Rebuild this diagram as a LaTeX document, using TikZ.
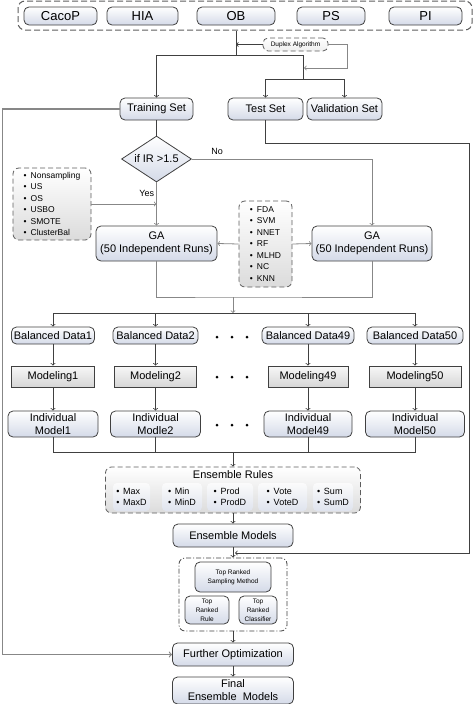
\documentclass[tikz,border=0pt]{standalone}
\usepackage{fontspec}
\setmainfont{Liberation Sans}
\usetikzlibrary{shapes.geometric, arrows}
\definecolor{boxblue}{RGB}{212,218,232}
\definecolor{linegray}{RGB}{64,64,64}
\definecolor{routegray}{RGB}{135,135,135}
\tikzstyle{setbox} = [rectangle, rounded corners=5pt, draw=linegray, line width=0.8pt, top color=white, bottom color=boxblue, text centered, align=center, inner sep=1pt, font=\fontsize{11}{13}\selectfont]
\tikzstyle{databox} = [setbox, minimum height=18pt, font=\fontsize{13}{15}\selectfont]
\tikzstyle{modelbox} = [rectangle, draw=linegray, line width=0.8pt, top color=gray!6, bottom color=gray!32, minimum height=21pt, text centered, font=\fontsize{11}{13}\selectfont]
\tikzstyle{listbox} = [rectangle, rounded corners=6pt, draw=linegray!85, dash pattern=on 5pt off 3pt, line width=0.8pt, top color=white, bottom color=gray!28, align=left, inner sep=2pt, font=\fontsize{8.5}{11.5}\selectfont]
\tikzstyle{rulebox} = [rectangle, rounded corners=4pt, top color=gray!3, bottom color=boxblue!75, align=left, inner sep=1pt, font=\fontsize{9}{11}\selectfont]
\tikzstyle{rankbox} = [setbox, font=\fontsize{6.5}{9}\selectfont]
\tikzstyle{decision} = [diamond, aspect=1.5, draw=linegray, line width=0.8pt, top color=white, bottom color=boxblue, inner sep=0pt, minimum width=70pt, minimum height=46pt, font=\fontsize{11}{13}\selectfont]
\tikzstyle{conn} = [draw=linegray, line width=0.8pt]
\tikzstyle{gline} = [draw=routegray, line width=0.8pt]
\tikzstyle{arrow} = [conn, ->, >=to]
\tikzstyle{garrow} = [gline, ->, >=to]
\tikzstyle{tag} = [font=\fontsize{9}{11}\selectfont, inner sep=2pt]
\newcommand{\itm}{\makebox[7pt][l]{\textbullet}}

\begin{document}
\begin{tikzpicture}[x=1pt, y=-1pt, node distance=41pt]
  \useasboundingbox (0,0) rectangle (474,704);

  % data sets
  \node (datasets) [rectangle, rounded corners=7pt, draw=linegray!85, dash pattern=on 6pt off 3pt, line width=1pt, minimum width=454pt, minimum height=29pt] at (245,15.5) {};
  \node (cacop) [databox, minimum width=73pt] at (60.5,16) {CacoP};
  \node (hia) [databox, minimum width=71pt] at (142.5,16) {HIA};
  \node (ob) [databox, minimum width=78pt] at (236,16) {OB};
  \node (ps) [databox, minimum width=68pt] at (331,16) {PS};
  \node (pi) [databox, minimum width=73pt] at (425.5,16) {PI};

  \node (duplex) [listbox, rounded corners=5pt, top color=white, bottom color=gray!12, minimum width=65pt, minimum height=13pt, inner sep=0pt, align=center, font=\fontsize{6.5}{7}\selectfont] at (295.5,44.5) {Duplex Algorithm};
  \coordinate (split) at (236,55);
  \coordinate (vsplit) at (303,79);
  \coordinate (dupin) at (304,68);

  \node (train) [setbox, minimum width=73pt, minimum height=22pt] at (156.5,109) {Training Set};
  \node (test) [setbox, minimum width=75pt, minimum height=22pt] at (265.5,109) {Test Set};
  \node (valid) [setbox, minimum width=75pt, minimum height=22pt] at (344.5,109) {Validation Set};

  \draw [conn] (datasets.south -| ob) -- (split);
  \draw [arrow] (duplex.west) -- (duplex.west -| split);
  \draw [garrow] (duplex.east) -| ++(19,23.5) -- (dupin);
  \draw [conn] (split) -| (vsplit);
  \draw [arrow] (split) -| (train.north);
  \draw [conn] (test.north |- vsplit) -- (valid.north |- vsplit);
  \draw [arrow] (test.north |- vsplit) -- (test.north);
  \draw [arrow] (valid.north |- vsplit) -- (valid.north);

  % imbalance check and GA
  \node (dec) [decision] at (156.5,159) {if IR >1.5};
  \node (sampling) [listbox, minimum width=78pt, minimum height=72pt] at (52,204) {\itm Nonsampling\\\itm US\\\itm OS\\\itm USBO\\\itm SMOTE\\\itm ClusterBal};
  \node (classif) [listbox, minimum width=53pt, minimum height=86pt] at (265.5,244) {\itm FDA\\\itm SVM\\\itm NNET\\\itm RF\\\itm MLHD\\\itm NC\\\itm KNN};
  \node (lga) [setbox, minimum width=121pt, minimum height=35pt] at (156.5,243.5) {GA\\(50 Independent Runs)};
  \node (rga) [setbox, minimum width=120pt, minimum height=35pt] at (372,243.5) {GA\\(50 Independent Runs)};

  \draw [conn] (train) -- (dec);
  \draw [garrow] (dec.east) -| node[pos=0.07, above, yshift=2pt, tag] (no) {No} (rga.north);
  \draw [garrow] (dec.south) -- node[pos=0.25, left, tag] (yes) {Yes} (lga.north);
  \draw [garrow] (sampling.east) -- (sampling.east -| lga.north);
  \draw [garrow] (classif.west) -- (lga.east);
  \draw [garrow] (classif.east) -- (rga.west);

  \coordinate (merge) at (233,297);
  \coordinate (dist) at (233,313);
  \draw [gline] (lga.south) |- (merge) -| (rga.south);
  \draw [garrow] (merge) -- (dist);

  % 50 balanced data sets
  \node (bd1) [setbox, minimum width=83pt, minimum height=17pt] at (53,335.5) {Balanced Data1};
  \node (bd2) [setbox, minimum width=85pt, minimum height=17pt] at (155.5,335.5) {Balanced Data2};
  \node (bd49) [setbox, minimum width=92pt, minimum height=17pt] at (308,335.5) {Balanced Data49};
  \node (bd50) [setbox, minimum width=96pt, minimum height=17pt] at (415,335.5) {Balanced Data50};

  \node (mod1) [modelbox, minimum width=83pt, below of=bd1] {Modeling1};
  \node (mod2) [modelbox, minimum width=82pt, below of=bd2] {Modeling2};
  \node (mod49) [modelbox, minimum width=80pt, below of=bd49] {Modeling49};
  \node (mod50) [modelbox, minimum width=92pt, below of=bd50] {Modeling50};

  \node (ind1) [setbox, minimum width=90pt, minimum height=26pt, below of=mod1, yshift=-6.5pt] {Individual\\Model1};
  \node (ind2) [setbox, minimum width=90pt, minimum height=26pt, below of=mod2, yshift=-6.5pt] {Individual\\Modle2};
  \node (ind49) [setbox, minimum width=88pt, minimum height=26pt, below of=mod49, yshift=-6.5pt] {Individual\\Model49};
  \node (ind50) [setbox, minimum width=99pt, minimum height=26pt, below of=mod50, yshift=-6.5pt] {Individual\\Model50};

  \foreach \y in {337,377,425}
    \foreach \x in {217,232,247}
      \fill [black] (\x,\y) circle (1.5pt);

  \draw [conn] (bd1.north |- dist) -- (bd50.north |- dist);
  \foreach \n in {bd1,bd2,bd49,bd50}
    \draw [arrow] (\n.north |- dist) -- (\n.north);
  \draw [arrow] (bd1) -- (mod1);
  \draw [arrow] (bd2) -- (mod2);
  \draw [arrow] (bd49) -- (mod49);
  \draw [arrow] (bd50) -- (mod50);
  \draw [arrow] (mod1) -- (ind1);
  \draw [arrow] (mod2) -- (ind2);
  \draw [arrow] (mod49) -- (ind49);
  \draw [arrow] (mod50) -- (ind50);

  % ensemble
  \coordinate (join) at (233,452);
  \draw [conn] (ind1.south) |- (ind50.south |- join) -- (ind50.south);
  \draw [conn] (ind2.south) -- (ind2.south |- join);
  \draw [conn] (ind49.south) -- (ind49.south |- join);

  \node (rules) [listbox, minimum width=255pt, minimum height=46pt] at (233,490) {};
  \node (rulestitle) [font=\fontsize{11}{13}\selectfont, inner sep=0pt] at (233,474.5) {Ensemble Rules};
  \node (rmax) [rulebox, minimum width=37pt, minimum height=28pt] at (131.5,497) {\itm Max\\\itm MaxD};
  \node (rmin) [rulebox, minimum width=40pt, minimum height=28pt] at (182,497) {\itm Min\\\itm MinD};
  \node (rprod) [rulebox, minimum width=46pt, minimum height=28pt] at (230,497) {\itm Prod\\\itm ProdD};
  \node (rvote) [rulebox, minimum width=49pt, minimum height=28pt] at (282.5,497) {\itm Vote\\\itm VoteD};
  \node (rsum) [rulebox, minimum width=40pt, minimum height=28pt] at (333,497) {\itm Sum\\\itm SumD};
  \draw [arrow] (join) -- (rules.north);

  \node (ens) [setbox, minimum width=120pt, minimum height=23pt] at (233,535.5) {Ensemble Models};
  \draw [arrow] (rules.south) -- (ens.north);

  % top ranked choices
  \node (topbox) [rectangle, rounded corners=6pt, draw=linegray, line width=0.8pt, dash pattern=on 5pt off 2pt on 1pt off 2pt, minimum width=108pt, minimum height=73pt] at (233,594.5) {};
  \node (tsamp) [rankbox, minimum width=76pt, minimum height=30pt] at (233,577) {Top Ranked\\Sampling Method};
  \node (trule) [rankbox, minimum width=44pt, minimum height=28pt] at (207,610) {Top\\Ranked\\Rule};
  \node (tclass) [rankbox, minimum width=38pt, minimum height=28pt] at (258,610) {Top\\Ranked\\Classifier};
  \coordinate (tturn) at (469,143);
  \coordinate (tin) at (235,553);
  \draw [arrow] (ens.south) -- (topbox.north);
  \draw [arrow] (test.south) |- (tturn) |- (tin);

  \node (further) [setbox, minimum width=121pt, minimum height=23pt] at (233,654.5) {Further Optimization};
  \node (final) [setbox, minimum width=121pt, minimum height=27pt] at (233,690.5) {Final\\Ensemble\ \ Models};
  \draw [arrow] (topbox.south) -- (further.north);
  \draw [arrow] (further) -- (final);
  \draw [garrow, line width=1.2pt] (train.west) -- ++(-117,0) |- (further.west);
\end{tikzpicture}
\end{document}
